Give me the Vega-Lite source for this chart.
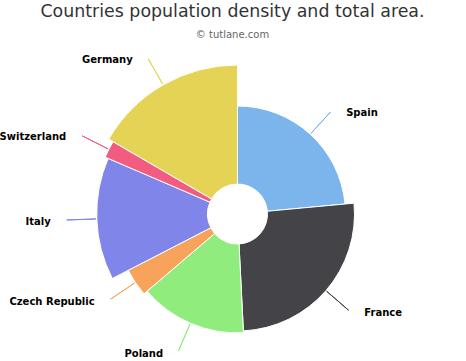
{
  "$schema": "https://vega.github.io/schema/vega-lite/v6.json",
  "width": 456,
  "height": 294,
  "autosize": {"type": "none"},
  "padding": {"left": 9.5, "right": 0, "top": 67, "bottom": 0},
  "background": "white",
  "view": {"stroke": null},
  "title": {
    "text": "Countries population density and total area.",
    "subtitle": "\u00a0\u00a0\u00a0\u00a0\u00a0\u00a0\u00a0\u00a0\u00a0© tutlane.com",
    "font": "DejaVu Sans",
    "fontSize": 17.4,
    "fontWeight": "normal",
    "color": "#333333",
    "subtitleFont": "DejaVu Sans",
    "subtitleFontSize": 10,
    "subtitleColor": "#666666",
    "subtitlePadding": 10,
    "offset": 15,
    "anchor": "middle",
    "frame": "group",
    "dx": -5
  },
  "data": {
    "values": [
      {"country": "Spain", "area": 505370, "density": 92.9},
      {"country": "France", "area": 551500, "density": 118.7},
      {"country": "Poland", "area": 312685, "density": 124.6},
      {"country": "Czech Republic", "area": 78867, "density": 137.5},
      {"country": "Italy", "area": 301340, "density": 201.8},
      {"country": "Switzerland", "area": 41277, "density": 214.5},
      {"country": "Germany", "area": 357022, "density": 235.6}
    ]
  },
  "transform": [
    {"stack": "area", "groupby": [], "sort": [{"field": "density", "order": "ascending"}], "as": ["a0", "a1"]}
  ],
  "layer": [
    {
      "mark": {"type": "arc", "innerRadius": 30, "stroke": "white", "strokeWidth": 1},
      "encoding": {
        "theta": {"field": "a0", "type": "quantitative"},
        "theta2": {"field": "a1"},
        "radius": {"field": "density", "type": "quantitative", "scale": {"type": "sqrt", "domain": [92.9, 235.6], "range": [108, 149], "zero": false}},
        "color": {
          "field": "country", "type": "nominal", "legend": null,
          "scale": {
            "domain": ["Spain", "France", "Poland", "Czech Republic", "Italy", "Switzerland", "Germany"],
            "range": ["#7cb5ec", "#434348", "#90ed7d", "#f7a35c", "#8085e9", "#f15c80", "#e4d354"]
          }
        }
      }
    },
    {
      "mark": {"type": "arc", "padAngle": 3, "radiusOffset": 30, "radius2Offset": 1, "fillOpacity": 0, "strokeWidth": 1},
      "encoding": {
        "theta": {"field": "a0", "type": "quantitative"},
        "theta2": {"field": "a1"},
        "radius": {"field": "density", "type": "quantitative"},
        "radius2": {"field": "density"},
        "stroke": {
          "field": "country", "type": "nominal", "legend": null,
          "scale": {
            "domain": ["Spain", "France", "Poland", "Czech Republic", "Italy", "Switzerland", "Germany"],
            "range": ["#7cb5ec", "#434348", "#90ed7d", "#f7a35c", "#8085e9", "#f15c80", "#e4d354"]
          }
        }
      }
    },
    {
      "mark": {"type": "text", "radius": {"expr": "scale('radius', datum.density) + 31"}, "align": "left", "baseline": "middle", "dx": 15, "dy": 2, "font": "DejaVu Sans", "fontSize": 10, "fontWeight": "bold", "color": "#000000"},
      "encoding": {
        "theta": {"field": "area", "type": "quantitative", "stack": true},
        "order": {"field": "density", "type": "quantitative", "sort": "ascending"},
        "text": {"condition": {"test": "datum.country === 'Spain' || datum.country === 'France'", "field": "country"}, "value": ""}
      }
    },
    {
      "mark": {"type": "text", "radius": {"expr": "scale('radius', datum.density) + 31"}, "align": "right", "baseline": "middle", "dx": -15, "dy": 2, "font": "DejaVu Sans", "fontSize": 10, "fontWeight": "bold", "color": "#000000"},
      "encoding": {
        "theta": {"field": "area", "type": "quantitative", "stack": true},
        "order": {"field": "density", "type": "quantitative", "sort": "ascending"},
        "text": {"condition": {"test": "datum.country !== 'Spain' && datum.country !== 'France'", "field": "country"}, "value": ""}
      }
    }
  ]
}
